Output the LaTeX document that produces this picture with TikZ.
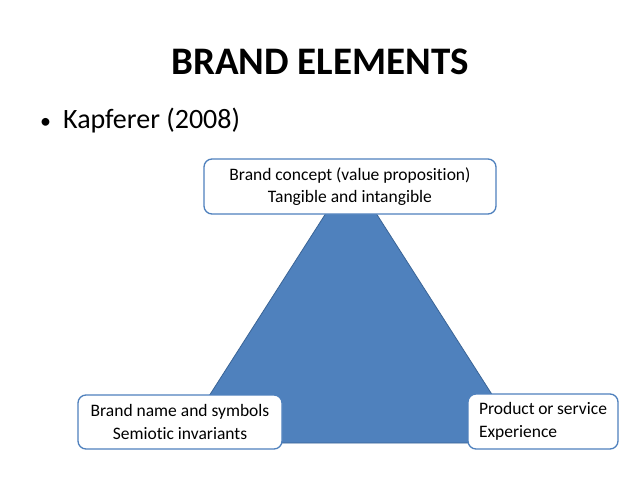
\documentclass[tikz,border=0pt]{standalone}
\usepackage{fontspec}
\setmainfont{Carlito}[Ligatures={NoCommon}]
\definecolor{triFill}{HTML}{4F81BD}
\definecolor{triLine}{HTML}{3A6496}
\definecolor{boxLine}{HTML}{4F81BD}
\begin{document}
\begin{tikzpicture}[x=1pt,y=-1pt,
  roundbox/.style={draw=boxLine, line width=1.3pt, fill=white, rounded corners=8pt,
    font=\fontsize{17.5}{22.5}\selectfont, inner sep=0pt},
  tri/.style={fill=triFill, draw=triLine, line width=0.8pt}]
\useasboundingbox (0,0) rectangle (638,479);
\fill[white] (0,0) rectangle (638,479);
% triangle
\coordinate (apex) at (351,174);
\coordinate (bl) at (179,443);
\coordinate (br) at (523,443);
\draw[tri] (apex) -- (br) -- (bl) -- cycle;
% title
\node (title) at (320,62) {\fontsize{39}{46}\selectfont\bfseries BRAND ELEMENTS};
\node[anchor=west, inner sep=0pt] (bullet) at (40,121) {\fontsize{28}{32}\selectfont {\fontsize{22}{26}\selectfont•}\hspace{12pt}Kapferer (2008)};
% boxes
\node[roundbox, minimum width=292pt, minimum height=55pt, align=center] (top) at (350,186.5)
  {Brand concept (value proposition)\\Tangible and intangible};
\node[roundbox, minimum width=204pt, minimum height=54pt, align=center] (left) at (180,422)
  {Brand name and symbols\\Semiotic invariants};
\node[roundbox, text width=128pt, inner xsep=11pt, minimum height=55pt, align=flush left] (right) at (543,421.5)
  {Product or service\\Experience};
\end{tikzpicture}
\end{document}
